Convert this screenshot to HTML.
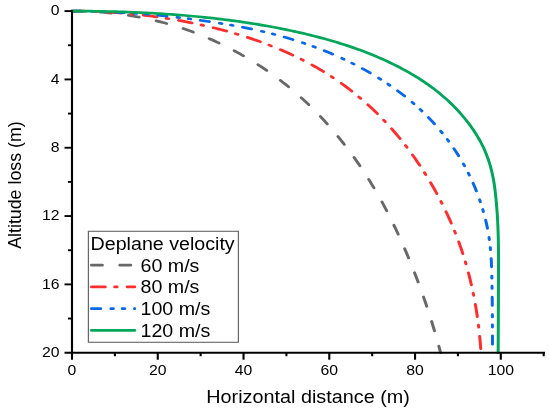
<!DOCTYPE html><html><head><meta charset="utf-8"><title>Deplane velocity chart</title><style>html,body{margin:0;padding:0;background:#fff;overflow:hidden}svg{display:block}text{font-family:"Liberation Sans",Arial,Helvetica,sans-serif;fill:#000}</style></head><body>
<svg width="550" height="413" viewBox="0 0 550 413">
<rect width="550" height="413" fill="#fff"/>
<g transform="scale(1.11,1)">
<path d="M64.86 11.1 L66.94 11.11 L69.01 11.13 L71.08 11.16 L73.15 11.21 L75.22 11.27 L77.29 11.35 L79.36 11.44 L81.43 11.54 L83.5 11.66 L85.57 11.79 L87.64 11.94 L89.7 12.1 L91.77 12.27 L93.83 12.46 L95.89 12.67 L97.95 12.88 L100.01 13.12 L102.07 13.36 L104.13 13.62 L106.18 13.9 L108.23 14.19 L110.28 14.49 L112.33 14.81 L114.37 15.14 L116.42 15.49 L118.46 15.85 L120.49 16.23 L122.53 16.62 L124.56 17.03 L126.59 17.45 L128.62 17.89 L130.64 18.34 L132.66 18.8 L134.67 19.28 L136.69 19.78 L138.69 20.29 L140.7 20.82 L142.7 21.36 L144.69 21.91 L146.69 22.49 L148.67 23.07 L150.65 23.68 L152.63 24.29 L154.61 24.93 L156.57 25.58 L158.54 26.24 L160.49 26.92 L162.45 27.62 L164.39 28.33 L166.33 29.05 L168.27 29.8 L170.2 30.55 L172.12 31.32 L174.04 32.11 L175.95 32.91 L177.85 33.72 L179.75 34.55 L181.64 35.4 L183.53 36.26 L185.41 37.13 L187.28 38.02 L189.15 38.92 L191.01 39.83 L192.86 40.76 L194.71 41.7 L196.55 42.65 L198.38 43.62 L200.21 44.59 L202.03 45.59 L203.84 46.59 L205.65 47.61 L207.45 48.63 L209.24 49.68 L211.02 50.73 L212.8 51.79 L214.57 52.87 L216.33 53.96 L218.09 55.06 L219.83 56.18 L221.57 57.3 L223.31 58.44 L225.03 59.58 L226.75 60.74 L228.46 61.91 L230.16 63.1 L231.86 64.29 L233.54 65.49 L235.22 66.71 L236.89 67.94 L238.55 69.17 L240.21 70.42 L241.85 71.68 L243.49 72.95 L245.12 74.23 L246.73 75.53 L248.35 76.83 L249.95 78.15 L251.54 79.47 L253.12 80.81 L254.7 82.16 L256.26 83.51 L257.82 84.88 L259.36 86.26 L260.9 87.65 L262.43 89.05 L263.94 90.47 L265.45 91.89 L266.95 93.32 L268.44 94.76 L269.91 96.21 L271.38 97.68 L272.84 99.15 L274.29 100.63 L275.72 102.13 L277.15 103.63 L278.57 105.14 L279.98 106.66 L281.38 108.19 L282.76 109.73 L284.14 111.27 L285.51 112.83 L286.87 114.39 L288.22 115.97 L289.56 117.55 L290.89 119.13 L292.21 120.73 L293.52 122.33 L294.83 123.94 L296.12 125.56 L297.41 127.19 L298.68 128.82 L299.95 130.46 L301.21 132.11 L302.46 133.76 L303.7 135.42 L304.93 137.09 L306.15 138.76 L307.36 140.44 L308.57 142.13 L309.76 143.82 L310.95 145.52 L312.13 147.22 L313.3 148.93 L314.46 150.65 L315.61 152.37 L316.75 154.1 L317.89 155.83 L319.02 157.57 L320.13 159.32 L321.24 161.07 L322.34 162.82 L323.44 164.58 L324.52 166.35 L325.6 168.12 L326.67 169.9 L327.73 171.68 L328.78 173.46 L329.82 175.25 L330.85 177.05 L331.88 178.85 L332.9 180.65 L333.91 182.46 L334.91 184.28 L335.9 186.09 L336.89 187.92 L337.86 189.75 L338.83 191.58 L339.79 193.41 L340.74 195.25 L341.69 197.1 L342.62 198.95 L343.55 200.8 L344.47 202.66 L345.38 204.52 L346.29 206.38 L347.18 208.25 L348.07 210.12 L348.95 212 L349.83 213.88 L350.69 215.76 L351.55 217.65 L352.4 219.54 L353.25 221.43 L354.08 223.32 L354.91 225.22 L355.74 227.12 L356.55 229.03 L357.36 230.93 L358.17 232.84 L358.97 234.76 L359.76 236.67 L360.54 238.59 L361.32 240.51 L362.1 242.43 L362.86 244.36 L363.63 246.28 L364.38 248.21 L365.13 250.14 L365.88 252.08 L366.62 254.01 L367.36 255.95 L368.08 257.89 L368.81 259.83 L369.53 261.77 L370.24 263.72 L370.95 265.67 L371.65 267.61 L372.35 269.57 L373.05 271.52 L373.73 273.47 L374.42 275.43 L375.09 277.39 L375.77 279.35 L376.44 281.31 L377.1 283.27 L377.75 285.24 L378.41 287.2 L379.05 289.17 L379.7 291.14 L380.33 293.11 L380.96 295.09 L381.59 297.06 L382.21 299.04 L382.83 301.02 L383.44 303 L384.04 304.98 L384.64 306.96 L385.23 308.95 L385.82 310.94 L386.41 312.92 L386.99 314.91 L387.56 316.91 L388.13 318.9 L388.69 320.89 L389.25 322.89 L389.8 324.88 L390.35 326.88 L390.89 328.88 L391.43 330.88 L391.96 332.89 L392.49 334.89 L393.01 336.89 L393.53 338.9 L394.04 340.91 L394.55 342.92 L395.05 344.93 L395.55 346.94 L396.04 348.95 L396.53 350.97 L396.95 352.73" fill="none" stroke="#686868" stroke-width="2.7" stroke-linecap="round" stroke-linejoin="round" stroke-dasharray="9.8 15.75" stroke-dashoffset="0"/>
<path d="M64.86 11.1 L67.12 11.1 L69.38 11.12 L71.63 11.14 L73.89 11.18 L76.15 11.22 L78.4 11.28 L80.66 11.34 L82.91 11.42 L85.17 11.5 L87.42 11.6 L89.68 11.7 L91.93 11.82 L94.19 11.94 L96.44 12.08 L98.69 12.23 L100.94 12.38 L103.19 12.55 L105.44 12.72 L107.69 12.91 L109.94 13.11 L112.19 13.31 L114.43 13.53 L116.68 13.76 L118.92 14 L121.16 14.25 L123.41 14.51 L125.65 14.78 L127.89 15.06 L130.12 15.35 L132.36 15.65 L134.6 15.96 L136.83 16.28 L139.06 16.61 L141.29 16.95 L143.52 17.31 L145.75 17.67 L147.97 18.04 L150.2 18.43 L152.42 18.82 L154.64 19.23 L156.86 19.64 L159.07 20.06 L161.29 20.5 L163.5 20.94 L165.71 21.4 L167.92 21.86 L170.13 22.34 L172.33 22.83 L174.53 23.32 L176.73 23.83 L178.93 24.35 L181.12 24.88 L183.31 25.42 L185.5 25.97 L187.69 26.53 L189.87 27.1 L192.05 27.68 L194.23 28.28 L196.4 28.88 L198.57 29.5 L200.74 30.13 L202.9 30.77 L205.06 31.42 L207.22 32.09 L209.37 32.77 L211.52 33.46 L213.66 34.16 L215.8 34.87 L217.94 35.6 L220.07 36.34 L222.2 37.1 L224.32 37.86 L226.44 38.64 L228.55 39.44 L230.66 40.25 L232.76 41.07 L234.86 41.9 L236.95 42.75 L239.03 43.62 L241.11 44.49 L243.18 45.38 L245.25 46.29 L247.31 47.21 L249.37 48.14 L251.42 49.09 L253.46 50.05 L255.49 51.03 L257.52 52.02 L259.54 53.02 L261.55 54.04 L263.56 55.08 L265.56 56.13 L267.55 57.19 L269.53 58.27 L271.5 59.36 L273.47 60.47 L275.43 61.59 L277.38 62.73 L279.32 63.88 L281.25 65.05 L283.17 66.23 L285.08 67.43 L286.98 68.65 L288.87 69.88 L290.75 71.13 L292.62 72.4 L294.48 73.68 L296.32 74.97 L298.16 76.29 L299.98 77.61 L301.8 78.96 L303.6 80.32 L305.39 81.69 L307.16 83.08 L308.93 84.49 L310.68 85.91 L312.42 87.35 L314.15 88.8 L315.87 90.26 L317.57 91.74 L319.26 93.24 L320.94 94.75 L322.61 96.27 L324.26 97.8 L325.9 99.35 L327.53 100.91 L329.15 102.49 L330.75 104.07 L332.35 105.67 L333.93 107.28 L335.49 108.91 L337.05 110.54 L338.59 112.19 L340.12 113.85 L341.63 115.52 L343.14 117.21 L344.63 118.9 L346.1 120.61 L347.57 122.33 L349.02 124.05 L350.46 125.79 L351.88 127.54 L353.29 129.3 L354.69 131.07 L356.08 132.86 L357.45 134.65 L358.81 136.45 L360.16 138.26 L361.49 140.08 L362.81 141.91 L364.12 143.75 L365.41 145.6 L366.69 147.45 L367.96 149.32 L369.22 151.2 L370.46 153.08 L371.7 154.97 L372.91 156.87 L374.12 158.77 L375.32 160.69 L376.5 162.61 L377.67 164.54 L378.83 166.48 L379.98 168.42 L381.11 170.37 L382.24 172.33 L383.35 174.29 L384.45 176.26 L385.54 178.24 L386.61 180.22 L387.68 182.21 L388.73 184.2 L389.78 186.21 L390.81 188.21 L391.83 190.23 L392.84 192.25 L393.83 194.27 L394.82 196.3 L395.79 198.34 L396.75 200.38 L397.71 202.42 L398.64 204.48 L399.57 206.53 L400.48 208.6 L401.39 210.67 L402.28 212.74 L403.16 214.82 L404.02 216.9 L404.88 218.99 L405.72 221.08 L406.55 223.18 L407.36 225.29 L408.16 227.4 L408.95 229.51 L409.73 231.63 L410.49 233.75 L411.24 235.88 L411.98 238.01 L412.7 240.15 L413.42 242.29 L414.11 244.44 L414.8 246.59 L415.47 248.75 L416.13 250.9 L416.77 253.07 L417.4 255.23 L418.02 257.4 L418.63 259.58 L419.22 261.75 L419.8 263.94 L420.36 266.12 L420.92 268.31 L421.46 270.5 L421.99 272.69 L422.5 274.89 L423 277.09 L423.5 279.29 L423.97 281.5 L424.44 283.71 L424.9 285.92 L425.34 288.13 L425.77 290.34 L426.19 292.56 L426.6 294.78 L427 297 L427.38 299.23 L427.76 301.45 L428.12 303.68 L428.47 305.91 L428.81 308.14 L429.14 310.37 L429.46 312.61 L429.76 314.84 L430.06 317.08 L430.34 319.32 L430.62 321.56 L430.88 323.8 L431.13 326.04 L431.37 328.28 L431.61 330.53 L431.83 332.78 L432.04 335.02 L432.24 337.27 L432.43 339.52 L432.61 341.77 L432.78 344.02 L432.93 346.27 L433.08 348.52 L433.22 350.77 L433.34 352.74" fill="none" stroke="#ff2d2d" stroke-width="2.7" stroke-linecap="round" stroke-linejoin="round" stroke-dasharray="12.4 8.5 2.2 9.1" stroke-dashoffset="0"/>
<path d="M64.86 11.1 L67.26 11.1 L69.65 11.12 L72.04 11.14 L74.43 11.16 L76.82 11.2 L79.21 11.25 L81.6 11.3 L83.99 11.36 L86.38 11.43 L88.76 11.5 L91.15 11.59 L93.54 11.68 L95.93 11.78 L98.32 11.89 L100.71 12.01 L103.09 12.13 L105.48 12.26 L107.87 12.4 L110.25 12.55 L112.64 12.71 L115.02 12.87 L117.41 13.04 L119.79 13.22 L122.17 13.41 L124.56 13.6 L126.94 13.8 L129.32 14.01 L131.7 14.23 L134.08 14.46 L136.46 14.69 L138.84 14.93 L141.22 15.18 L143.59 15.44 L145.97 15.7 L148.34 15.97 L150.72 16.25 L153.09 16.53 L155.46 16.82 L157.84 17.12 L160.21 17.43 L162.58 17.74 L164.95 18.06 L167.31 18.38 L169.68 18.71 L172.05 19.05 L174.41 19.39 L176.78 19.74 L179.14 20.1 L181.5 20.47 L183.86 20.84 L186.23 21.22 L188.58 21.6 L190.94 22 L193.3 22.4 L195.65 22.8 L198.01 23.22 L200.36 23.64 L202.71 24.08 L205.06 24.52 L207.41 24.97 L209.76 25.43 L212.1 25.89 L214.44 26.37 L216.78 26.86 L219.12 27.36 L221.46 27.86 L223.79 28.39 L226.12 28.92 L228.45 29.46 L230.77 30.02 L233.09 30.59 L235.41 31.17 L237.73 31.77 L240.04 32.38 L242.35 33 L244.65 33.64 L246.95 34.29 L249.24 34.96 L251.53 35.65 L253.82 36.34 L256.1 37.06 L258.38 37.79 L260.65 38.53 L262.92 39.29 L265.18 40.07 L267.43 40.86 L269.68 41.67 L271.93 42.49 L274.17 43.33 L276.4 44.18 L278.62 45.05 L280.84 45.94 L283.06 46.84 L285.27 47.76 L287.47 48.69 L289.66 49.64 L291.85 50.6 L294.03 51.58 L296.2 52.57 L298.37 53.58 L300.53 54.61 L302.68 55.65 L304.83 56.71 L306.96 57.78 L309.09 58.87 L311.21 59.98 L313.32 61.1 L315.42 62.24 L317.52 63.39 L319.6 64.56 L321.68 65.75 L323.74 66.95 L325.8 68.17 L327.84 69.41 L329.88 70.66 L331.9 71.93 L333.92 73.22 L335.92 74.52 L337.92 75.84 L339.9 77.18 L341.87 78.53 L343.83 79.9 L345.77 81.29 L347.71 82.69 L349.63 84.11 L351.54 85.55 L353.43 87.01 L355.32 88.48 L357.19 89.97 L359.04 91.48 L360.88 93.01 L362.7 94.55 L364.51 96.11 L366.31 97.69 L368.09 99.29 L369.85 100.91 L371.59 102.54 L373.32 104.19 L375.03 105.86 L376.72 107.55 L378.4 109.26 L380.05 110.98 L381.69 112.72 L383.31 114.48 L384.91 116.25 L386.49 118.05 L388.06 119.85 L389.6 121.68 L391.12 123.52 L392.63 125.38 L394.11 127.25 L395.58 129.14 L397.02 131.05 L398.44 132.97 L399.85 134.9 L401.23 136.85 L402.59 138.82 L403.94 140.8 L405.26 142.79 L406.56 144.79 L407.84 146.81 L409.1 148.84 L410.33 150.89 L411.55 152.95 L412.74 155.02 L413.91 157.11 L415.06 159.2 L416.18 161.31 L417.28 163.43 L418.36 165.57 L419.42 167.71 L420.45 169.87 L421.46 172.03 L422.45 174.21 L423.41 176.4 L424.35 178.59 L425.27 180.8 L426.17 183.02 L427.04 185.25 L427.89 187.48 L428.71 189.72 L429.51 191.97 L430.29 194.23 L431.05 196.5 L431.79 198.78 L432.5 201.06 L433.19 203.35 L433.86 205.64 L434.51 207.94 L435.13 210.25 L435.74 212.56 L436.31 214.88 L436.87 217.21 L437.39 219.54 L437.9 221.88 L438.37 224.22 L438.82 226.57 L439.25 228.92 L439.65 231.28 L440.02 233.64 L440.37 236 L440.69 238.37 L440.99 240.74 L441.26 243.12 L441.51 245.5 L441.74 247.87 L441.94 250.26 L442.13 252.64 L442.29 255.02 L442.44 257.41 L442.56 259.8 L442.68 262.19 L442.77 264.57 L442.86 266.96 L442.93 269.35 L442.99 271.74 L443.05 274.13 L443.1 276.52 L443.15 278.91 L443.19 281.3 L443.23 283.69 L443.27 286.08 L443.3 288.47 L443.34 290.86 L443.37 293.25 L443.4 295.64 L443.43 298.03 L443.45 300.42 L443.48 302.81 L443.5 305.2 L443.52 307.59 L443.54 309.98 L443.56 312.38 L443.57 314.77 L443.59 317.16 L443.6 319.55 L443.61 321.94 L443.62 324.33 L443.63 326.72 L443.64 329.11 L443.65 331.5 L443.66 333.89 L443.67 336.28 L443.67 338.67 L443.68 341.06 L443.68 343.45 L443.69 345.84 L443.69 348.23 L443.69 350.62 L443.7 352.71" fill="none" stroke="#0868ec" stroke-width="2.7" stroke-linecap="round" stroke-linejoin="round" stroke-dasharray="8.3 9.2 2.2 8 2.2 8.8" stroke-dashoffset="0"/>
<path d="M64.86 11.1 L67.36 11.1 L69.85 11.11 L72.34 11.12 L74.83 11.13 L77.32 11.15 L79.81 11.18 L82.3 11.21 L84.79 11.24 L87.28 11.28 L89.77 11.33 L92.26 11.37 L94.75 11.43 L97.24 11.49 L99.73 11.55 L102.21 11.62 L104.7 11.7 L107.19 11.78 L109.68 11.86 L112.17 11.96 L114.66 12.05 L117.15 12.16 L119.63 12.27 L122.12 12.38 L124.61 12.5 L127.1 12.63 L129.58 12.76 L132.07 12.9 L134.56 13.04 L137.04 13.19 L139.53 13.35 L142.01 13.51 L144.5 13.68 L146.98 13.86 L149.46 14.04 L151.95 14.23 L154.43 14.42 L156.91 14.62 L159.39 14.83 L161.87 15.05 L164.36 15.27 L166.84 15.5 L169.31 15.73 L171.79 15.98 L174.27 16.23 L176.75 16.49 L179.22 16.75 L181.7 17.02 L184.17 17.3 L186.65 17.59 L189.12 17.89 L191.59 18.19 L194.06 18.5 L196.53 18.82 L199 19.15 L201.47 19.48 L203.93 19.82 L206.4 20.18 L208.86 20.54 L211.33 20.91 L213.79 21.28 L216.25 21.67 L218.71 22.06 L221.17 22.47 L223.62 22.88 L226.08 23.3 L228.53 23.73 L230.98 24.17 L233.43 24.62 L235.88 25.08 L238.32 25.55 L240.77 26.03 L243.21 26.52 L245.65 27.02 L248.09 27.52 L250.52 28.04 L252.96 28.57 L255.39 29.11 L257.82 29.66 L260.24 30.22 L262.67 30.79 L265.09 31.37 L267.51 31.96 L269.92 32.57 L272.33 33.18 L274.74 33.81 L277.15 34.45 L279.55 35.1 L281.95 35.77 L284.35 36.44 L286.74 37.13 L289.13 37.84 L291.52 38.55 L293.9 39.28 L296.28 40.02 L298.65 40.78 L301.02 41.55 L303.38 42.33 L305.74 43.13 L308.09 43.95 L310.44 44.78 L312.78 45.63 L315.12 46.49 L317.45 47.37 L319.77 48.26 L322.09 49.17 L324.4 50.1 L326.7 51.05 L329 52.02 L331.29 53 L333.57 54 L335.84 55.02 L338.1 56.06 L340.36 57.12 L342.6 58.2 L344.84 59.29 L347.06 60.41 L349.28 61.55 L351.48 62.7 L353.68 63.88 L355.86 65.08 L358.03 66.3 L360.19 67.53 L362.34 68.79 L364.48 70.08 L366.6 71.38 L368.71 72.7 L370.81 74.05 L372.89 75.42 L374.95 76.81 L377 78.22 L379.03 79.66 L381.05 81.12 L383.04 82.61 L385.02 84.13 L386.98 85.66 L388.92 87.23 L390.84 88.82 L392.73 90.43 L394.6 92.08 L396.45 93.74 L398.28 95.44 L400.08 97.15 L401.86 98.9 L403.61 100.67 L405.34 102.46 L407.03 104.29 L408.71 106.13 L410.35 108 L411.97 109.89 L413.56 111.81 L415.12 113.75 L416.65 115.72 L418.15 117.7 L419.62 119.71 L421.06 121.74 L422.47 123.8 L423.85 125.87 L425.2 127.96 L426.52 130.08 L427.8 132.21 L429.04 134.37 L430.24 136.55 L431.4 138.75 L432.52 140.98 L433.6 143.22 L434.64 145.49 L435.62 147.77 L436.57 150.08 L437.47 152.4 L438.32 154.74 L439.13 157.1 L439.89 159.47 L440.6 161.85 L441.27 164.25 L441.9 166.66 L442.48 169.08 L443.03 171.51 L443.53 173.95 L443.99 176.4 L444.42 178.85 L444.82 181.31 L445.18 183.78 L445.51 186.24 L445.81 188.71 L446.09 191.19 L446.35 193.67 L446.59 196.14 L446.82 198.62 L447.04 201.11 L447.24 203.59 L447.43 206.07 L447.61 208.55 L447.77 211.04 L447.93 213.52 L448.07 216.01 L448.21 218.5 L448.33 220.98 L448.44 223.47 L448.54 225.96 L448.63 228.45 L448.72 230.94 L448.79 233.43 L448.86 235.92 L448.91 238.41 L448.96 240.9 L449.01 243.39 L449.04 245.88 L449.07 248.37 L449.09 250.86 L449.11 253.35 L449.12 255.84 L449.13 258.33 L449.13 260.82 L449.14 263.31 L449.13 265.8 L449.13 268.29 L449.12 270.78 L449.11 273.27 L449.11 275.76 L449.1 278.25 L449.09 280.74 L449.08 283.23 L449.07 285.72 L449.06 288.21 L449.05 290.7 L449.04 293.19 L449.04 295.68 L449.03 298.17 L449.02 300.66 L449.01 303.15 L449 305.64 L448.99 308.13 L448.98 310.62 L448.97 313.11 L448.96 315.6 L448.95 318.09 L448.94 320.58 L448.93 323.08 L448.92 325.57 L448.91 328.06 L448.9 330.55 L448.88 333.04 L448.87 335.53 L448.86 338.02 L448.85 340.51 L448.84 343 L448.83 345.49 L448.82 347.98 L448.81 350.47 L448.8 352.65" fill="none" stroke="#00a65a" stroke-width="2.7" stroke-linecap="round" stroke-linejoin="round"/>
<g stroke="#000" stroke-width="1.9" fill="none">
<path d="M64.86 10.2 V359.7"/>
<path d="M58.11 352.7 H490.99"/>
<path d="M58.11 11.1 H64.86"/>
<path d="M61.26 45.26 H64.86"/>
<path d="M58.11 79.42 H64.86"/>
<path d="M61.26 113.58 H64.86"/>
<path d="M58.11 147.74 H64.86"/>
<path d="M61.26 181.9 H64.86"/>
<path d="M58.11 216.06 H64.86"/>
<path d="M61.26 250.22 H64.86"/>
<path d="M58.11 284.38 H64.86"/>
<path d="M61.26 318.54 H64.86"/>
<path d="M103.5 352.7 V356.2"/>
<path d="M142.13 352.7 V359.7"/>
<path d="M180.76 352.7 V356.2"/>
<path d="M219.39 352.7 V359.7"/>
<path d="M258.02 352.7 V356.2"/>
<path d="M296.65 352.7 V359.7"/>
<path d="M335.28 352.7 V356.2"/>
<path d="M373.91 352.7 V359.7"/>
<path d="M412.54 352.7 V356.2"/>
<path d="M451.17 352.7 V359.7"/>
<path d="M489.8 352.7 V356.2"/>
</g>
<text x="53.6" y="15.3" font-size="14.2" text-anchor="end">0</text>
<text x="53.6" y="83.62" font-size="14.2" text-anchor="end">4</text>
<text x="53.6" y="151.94" font-size="14.2" text-anchor="end">8</text>
<text x="53.6" y="220.26" font-size="14.2" text-anchor="end">12</text>
<text x="53.6" y="288.58" font-size="14.2" text-anchor="end">16</text>
<text x="53.6" y="356.9" font-size="14.2" text-anchor="end">20</text>
<text x="64.86" y="375.4" font-size="14.2" text-anchor="middle">0</text>
<text x="142.13" y="375.4" font-size="14.2" text-anchor="middle">20</text>
<text x="219.39" y="375.4" font-size="14.2" text-anchor="middle">40</text>
<text x="296.65" y="375.4" font-size="14.2" text-anchor="middle">60</text>
<text x="373.91" y="375.4" font-size="14.2" text-anchor="middle">80</text>
<text x="451.17" y="375.4" font-size="14.2" text-anchor="middle">100</text>
<text x="185.86" y="402.7" font-size="17.7" textLength="183.4" lengthAdjust="spacingAndGlyphs">Horizontal distance (m)</text>
<rect x="79.64" y="231.3" width="135.14" height="111" fill="#fff" stroke="#666" stroke-width="1.1"/>
<text x="81.62" y="249.8" font-size="17.7">Deplane velocity</text>
<path d="M82.43 265.2 H121.35" fill="none" stroke="#686868" stroke-width="2.7" stroke-linecap="round" stroke-dasharray="9.8 15.75"/>
<text x="126.58" y="271.8" font-size="17.7">60 m/s</text>
<path d="M82.43 286.93 H121.35" fill="none" stroke="#ff2d2d" stroke-width="2.7" stroke-linecap="round" stroke-dasharray="12.4 8.5 2.2 9.1"/>
<text x="126.58" y="293.4" font-size="17.7">80 m/s</text>
<path d="M82.43 308.66 H121.35" fill="none" stroke="#0868ec" stroke-width="2.7" stroke-linecap="round" stroke-dasharray="8.3 9.2 2.2 8 2.2 8.8"/>
<text x="126.58" y="315" font-size="17.7">100 m/s</text>
<path d="M82.43 330.39 H121.35" fill="none" stroke="#00a65a" stroke-width="2.7" stroke-linecap="round"/>
<text x="126.58" y="336.6" font-size="17.7">120 m/s</text>
</g>
<text transform="translate(21,248.8) rotate(-90) scale(1,1.0)" font-size="17.8">Altitude loss (m)</text>
</svg></body></html>
